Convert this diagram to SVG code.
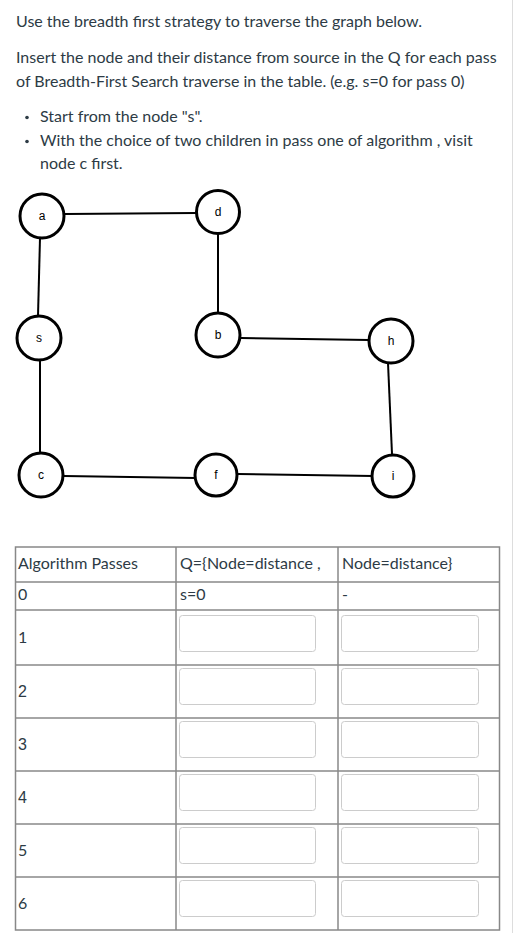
<svg xmlns="http://www.w3.org/2000/svg" width="523" height="933" viewBox="0 0 523 933">
<style>
.t{font-family:Lato,"Liberation Sans",sans-serif;font-size:16px;fill:#2d3b45}
.tb{font-family:Lato,"Liberation Sans",sans-serif;font-size:16px;fill:#2d3b45}
.ta{font-family:"Liberation Sans",Arial,sans-serif;font-size:16px;fill:#2d3b45}
.n circle{fill:#fff;stroke:#000;stroke-width:3}
.n text{font-family:"Liberation Sans",Arial,sans-serif;font-size:12px;fill:#000;text-anchor:middle}
.e line{stroke:#000;stroke-width:2}
.g{stroke:#888;stroke-width:1.5;fill:none}
.box{fill:#fff;stroke:#ccc;stroke-width:1}
</style>
<rect width="523" height="933" fill="#fff"/>
<line x1="512.5" y1="0" x2="512.5" y2="933" stroke="#ddd" stroke-width="1"/>
<g id="text">
<text class="t" x="16" y="27">Use the breadth first strategy to traverse the graph below.</text>
<text class="t" x="16" y="63">Insert the node and their distance from source in the Q for each pass</text>
<text class="t" x="16" y="87">of Breadth-First Search traverse in the table. (e.g. s=0 for pass 0)</text>
<circle cx="27" cy="117.5" r="1.8" fill="#2d3b45"/>
<text class="t" x="40" y="122">Start from the node "s".</text>
<circle cx="27" cy="141.5" r="1.8" fill="#2d3b45"/>
<text class="t" x="40" y="146">With the choice of two children in pass one of algorithm , visit</text>
<text class="t" x="40" y="169">node c first.</text>
</g>
<g id="edges" class="e">
<line x1="65" y1="214" x2="196" y2="213"/>
<line x1="40" y1="238" x2="38" y2="316"/>
<line x1="218" y1="233" x2="218" y2="313"/>
<line x1="241" y1="338" x2="369" y2="340"/>
<line x1="40" y1="360" x2="40" y2="453"/>
<line x1="64" y1="476" x2="196" y2="478"/>
<line x1="238" y1="474" x2="373" y2="476"/>
<line x1="388" y1="363" x2="392" y2="454"/>
</g>
<g id="node-a" class="n"><circle cx="42" cy="216" r="22"/><text x="42" y="220">a</text></g>
<g id="node-d" class="n"><circle cx="218" cy="212" r="21.5"/><text x="218" y="216">d</text></g>
<g id="node-s" class="n"><circle cx="39" cy="338" r="22"/><text x="39" y="342">s</text></g>
<g id="node-b" class="n"><circle cx="218" cy="335" r="22"/><text x="218" y="339">b</text></g>
<g id="node-h" class="n"><circle cx="391" cy="341" r="22"/><text x="391" y="345">h</text></g>
<g id="node-c" class="n"><circle cx="41" cy="475" r="22"/><text x="41" y="479">c</text></g>
<g id="node-f" class="n"><circle cx="216" cy="475" r="21"/><text x="216" y="479">f</text></g>
<g id="node-i" class="n"><circle cx="393" cy="476" r="21"/><text x="393" y="480">i</text></g>
<g id="table">
<rect class="g" x="15.5" y="547" width="484" height="383"/>
<line class="g" x1="176" y1="547" x2="176" y2="930"/>
<line class="g" x1="338" y1="547" x2="338" y2="930"/>
<line class="g" x1="15.5" y1="582" x2="499.5" y2="582"/>
<line class="g" x1="15.5" y1="610" x2="499.5" y2="610"/>
<line class="g" x1="15.5" y1="665" x2="499.5" y2="665"/>
<line class="g" x1="15.5" y1="718" x2="499.5" y2="718"/>
<line class="g" x1="15.5" y1="771" x2="499.5" y2="771"/>
<line class="g" x1="15.5" y1="824" x2="499.5" y2="824"/>
<line class="g" x1="15.5" y1="877" x2="499.5" y2="877"/>
<text class="tb" x="18" y="569">Algorithm Passes</text>
<text class="tb" x="180" y="569">Q={Node=distance ,</text>
<text class="tb" x="342" y="569">Node=distance}</text>
<text class="tb" x="18" y="600">0</text>
<text class="tb" x="180" y="600">s=0</text>
<text class="tb" x="342" y="600">-</text>
<text class="tb" x="18" y="643">1</text>
<text class="ta" x="18" y="697">2</text>
<text class="ta" x="18" y="750">3</text>
<text class="ta" x="18" y="803">4</text>
<text class="tb" x="18" y="856">5</text>
<text class="tb" x="18" y="909">6</text>
<rect class="box" x="179.5" y="615.5" width="136" height="36" rx="3"/>
<rect class="box" x="341.5" y="615.5" width="137" height="36" rx="3"/>
<rect class="box" x="179.5" y="668.5" width="136" height="36" rx="3"/>
<rect class="box" x="341.5" y="668.5" width="137" height="36" rx="3"/>
<rect class="box" x="179.5" y="721.5" width="136" height="36" rx="3"/>
<rect class="box" x="341.5" y="721.5" width="137" height="36" rx="3"/>
<rect class="box" x="179.5" y="774.5" width="136" height="36" rx="3"/>
<rect class="box" x="341.5" y="774.5" width="137" height="36" rx="3"/>
<rect class="box" x="179.5" y="827.5" width="136" height="36" rx="3"/>
<rect class="box" x="341.5" y="827.5" width="137" height="36" rx="3"/>
<rect class="box" x="179.5" y="880.5" width="136" height="36" rx="3"/>
<rect class="box" x="341.5" y="880.5" width="137" height="36" rx="3"/>
</g>
</svg>
